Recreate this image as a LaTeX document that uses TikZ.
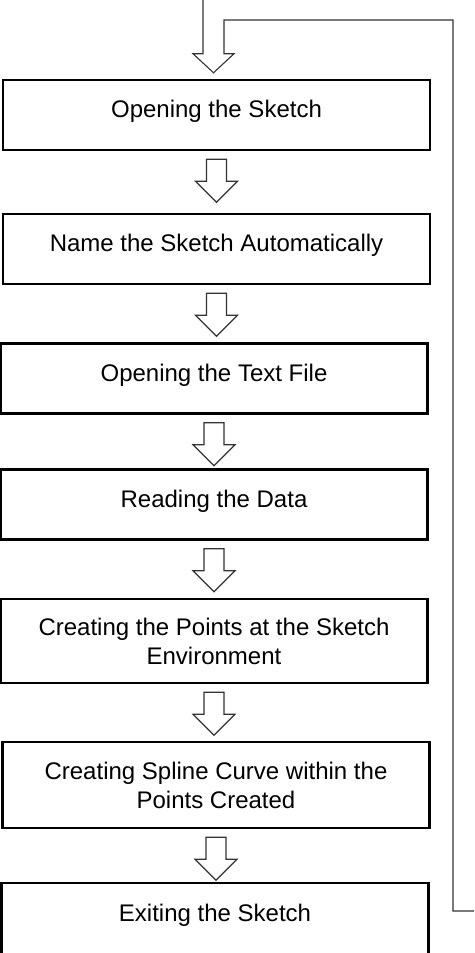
\documentclass[tikz,border=0pt]{standalone}
\usepackage{fontspec}
\setmainfont{Liberation Sans}
\usetikzlibrary{calc, positioning}

\begin{document}
\begin{tikzpicture}[x=1pt, y=-1pt, every node/.style={fill=white}, align=center]
\def\boxw{427pt}

\tikzstyle{stage node}=[draw=black, line width=2.5pt, minimum width=\boxw, minimum height=70pt, inner sep=0pt, font=\fontsize{24}{29}\selectfont]
\tikzstyle{one line}=[text depth=12pt]
\tikzstyle{arrow line}=[draw=black!80, line width=1.1pt, line join=miter]
\tikzstyle{hollow arrow}=[arrow line, fill=white]

\useasboundingbox (0,0) rectangle (474,953);

% 流程步骤
\node[stage node, one line] (S1) at (216.5, 115) {Opening the Sketch};
\node[stage node, one line] (S2) at (216.5, 249) {Name the Sketch Automatically};
\node[stage node, one line] (S3) at (214, 378.5) {Opening the Text File};
\node[stage node, one line] (S4) at (214, 504.5) {Reading the Data};
\node[stage node, minimum height=84pt] (S5) at (214, 641) {Creating the Points at the Sketch\\Environment};
\node[stage node, minimum height=86pt] (S6) at (216, 785) {Creating Spline Curve within the\\Points Created};
\node[stage node, one line, minimum height=71pt] (S7) at (215, 918.5) {Exiting the Sketch};

% 步骤->步骤(空心箭头)
\foreach \x in {1,...,6}
    \draw[hollow arrow] ($(S\x.south)+(-10,8)$) -- ++(0,22) -- ++(-11,0) -- ++(21,21) -- ++(21,-21) -- ++(-11,0) -- ++(0,-22) -- cycle;

% 入口箭头与返回线
\coordinate (entry) at (203, 0);
\coordinate (corner) at (453, 20);
\coordinate (back) at (474, 911);
\coordinate (tip) at ($(S1.north)+(-3,-6)$);
\draw[arrow line] (entry) |- ($(tip)+(-20.5,-19)$) -- (tip) -- ++(20.5,-19) -- ++(-10,0) |- (corner) |- (back);

\end{tikzpicture}
\end{document}
